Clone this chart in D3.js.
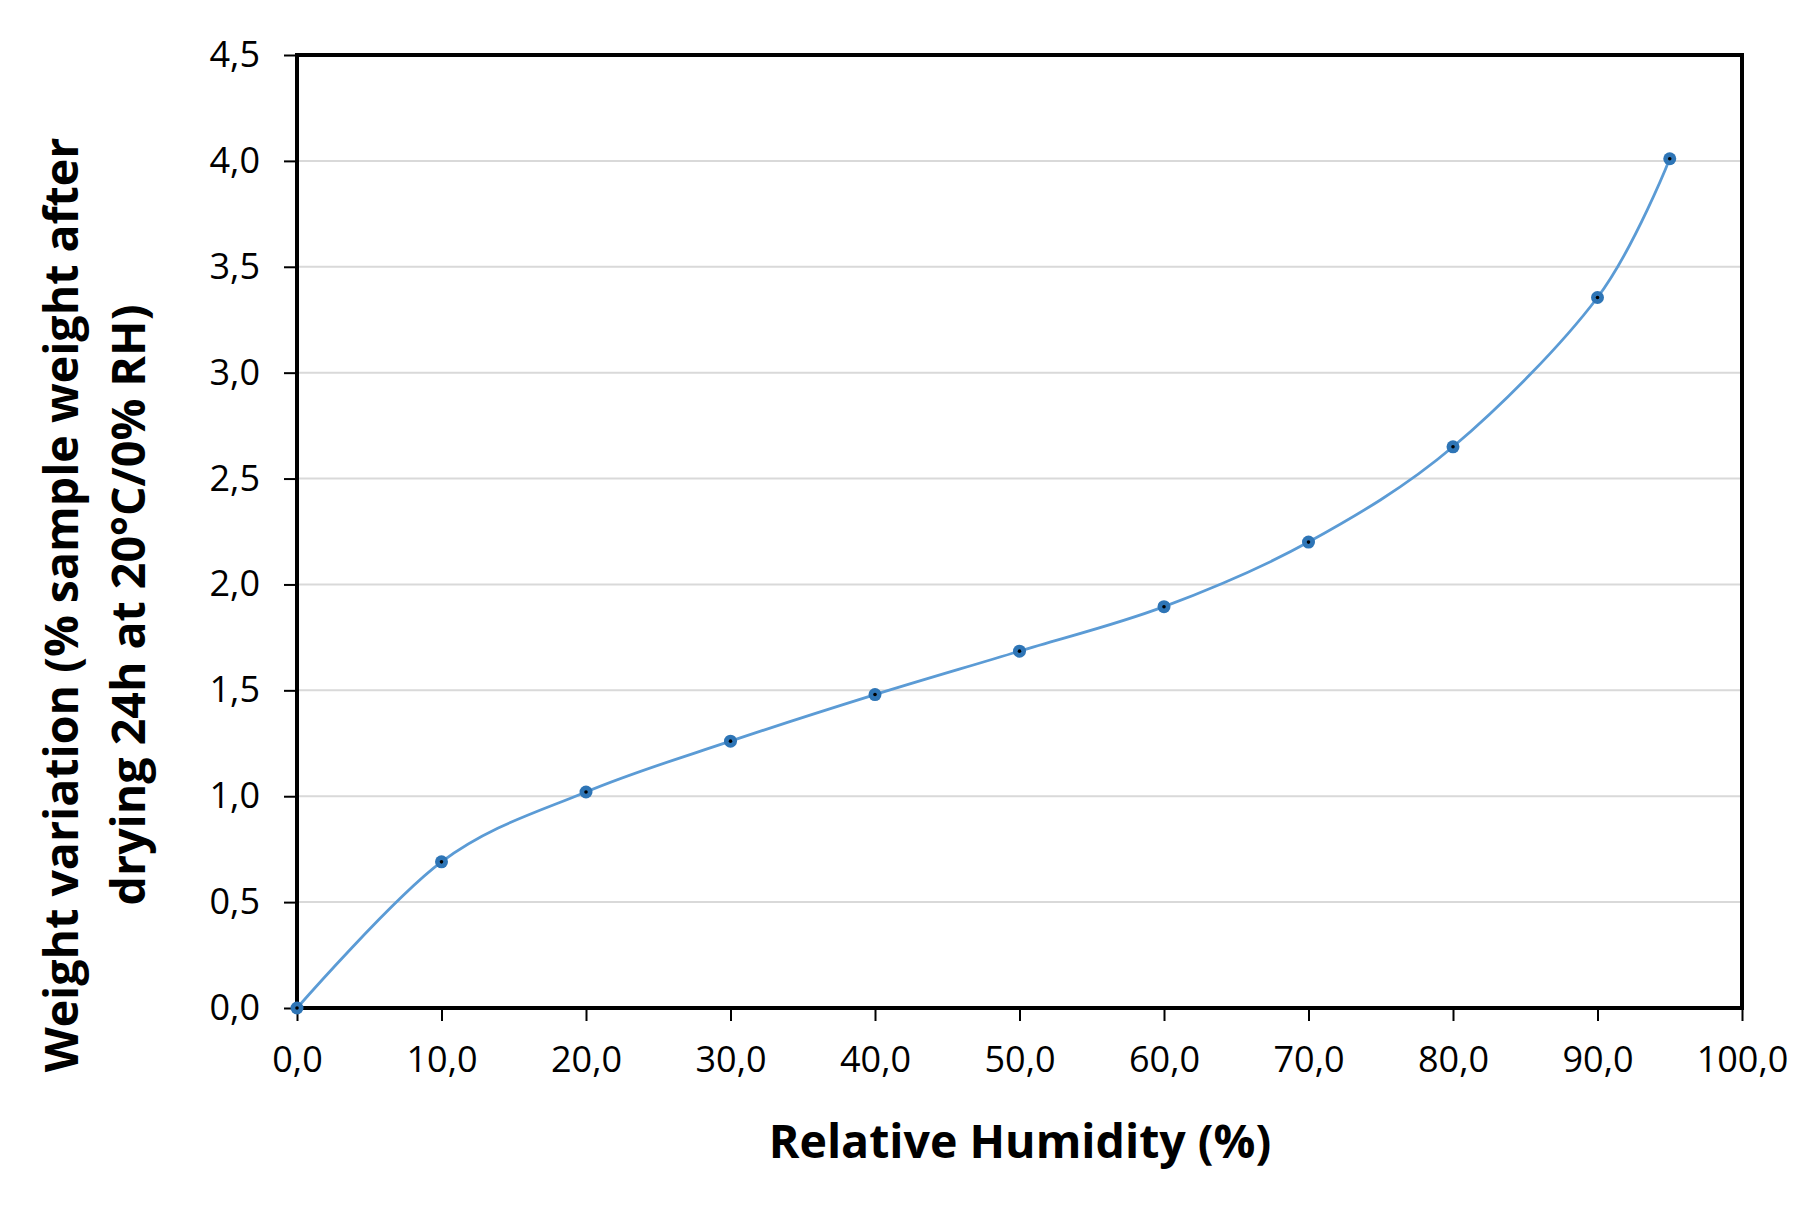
<!DOCTYPE html>
<html><head><meta charset="utf-8">
<script src="https://cdn.jsdelivr.net/npm/d3@7"></script>
<style>html,body{margin:0;padding:0;background:#fff}</style>
</head><body>
<svg id="c" width="1800" height="1210"></svg>
<script>
const humidity = [0, 10, 20, 30, 40, 50, 60, 70, 80, 90, 95];
const weightVar = [0, 0.69, 1.02, 1.26, 1.48, 1.685, 1.895, 2.20, 2.65, 3.355, 4.01];
const xTicks = [0, 10, 20, 30, 40, 50, 60, 70, 80, 90, 100];
const yTicks = [0, 0.5, 1.0, 1.5, 2.0, 2.5, 3.0, 3.5, 4.0, 4.5];
const xTitle = "Relative Humidity (%)";
const yTitleLines = ["Weight variation (% sample weight after", "drying 24h at 20°C/0% RH)"];

const W = 1800, H = 1210;
const m = {left: 297, right: 1742, top: 55, bottom: 1008};
const svg = d3.select("#c");
const x = d3.scaleLinear().domain([0, 100]).range([m.left, m.right]);
const y = d3.scaleLinear().domain([0, 4.5]).range([m.bottom, m.top]);
const loc = d3.formatLocale({decimal: ",", thousands: ".", grouping: [3], currency: ["", ""]});
const fmt = loc.format(".1f");
const tickFont = "'Open Sans', sans-serif";

// gridlines
svg.append("g").selectAll("line").data(yTicks.filter(d => d > 0 && d < 4.5)).join("line")
  .attr("x1", m.left).attr("x2", m.right)
  .attr("y1", d => y(d)).attr("y2", d => y(d))
  .attr("stroke", "#d9d9d9").attr("stroke-width", 2);

// axes
const yAxis = svg.append("g").attr("transform", `translate(${m.left},0)`)
  .call(d3.axisLeft(y).tickValues(yTicks).tickFormat(fmt).tickSize(13).tickPadding(24));
const xAxis = svg.append("g").attr("transform", `translate(0,${m.bottom})`)
  .call(d3.axisBottom(x).tickValues(xTicks).tickFormat(fmt).tickSize(13).tickPadding(20));
[yAxis, xAxis].forEach(g => {
  g.select(".domain").remove();
  g.selectAll(".tick line").attr("stroke", "#000").attr("stroke-width", 2);
  g.selectAll(".tick text").attr("fill", "#000").style("font-family", tickFont).style("font-size", "36px");
});
xAxis.selectAll(".tick text").attr("dy", "0.85em");

// frame
svg.append("rect").attr("x", m.left).attr("y", m.top)
  .attr("width", m.right - m.left).attr("height", m.bottom - m.top)
  .attr("fill", "none").attr("stroke", "#000").attr("stroke-width", 4);

// line
const pts = humidity.map((h, i) => [h, weightVar[i]]);
const line = d3.line().x(d => x(d[0])).y(d => y(d[1])).curve(d3.curveCardinal.tension(0));
svg.append("path").datum(pts).attr("d", line)
  .attr("fill", "none").attr("stroke", "#5b9bd5").attr("stroke-width", 2.8);

// markers
const mk = svg.append("g");
mk.selectAll("circle.o").data(pts).join("circle").attr("class", "o")
  .attr("cx", d => x(d[0])).attr("cy", d => y(d[1])).attr("r", 6.5).attr("fill", "#2e75b6");
mk.selectAll("circle.i").data(pts).join("circle").attr("class", "i")
  .attr("cx", d => x(d[0])).attr("cy", d => y(d[1])).attr("r", 1.8).attr("fill", "#000");

// titles
const titleFont = "'Open Sans', sans-serif";
svg.append("text").attr("x", 1020).attr("y", 1158).attr("text-anchor", "middle")
  .style("font-family", titleFont).style("font-weight", "bold").style("font-size", "46.5px")
  .text(xTitle);
const yt = svg.append("text").attr("transform", "translate(0,605) rotate(-90)")
  .attr("text-anchor", "middle")
  .style("font-family", titleFont).style("font-weight", "bold").style("font-size", "46.5px");
yt.selectAll("tspan").data(yTitleLines).join("tspan")
  .attr("x", 0).attr("y", (d, i) => 78 + i * 67).text(d => d);
</script>
</body></html>
